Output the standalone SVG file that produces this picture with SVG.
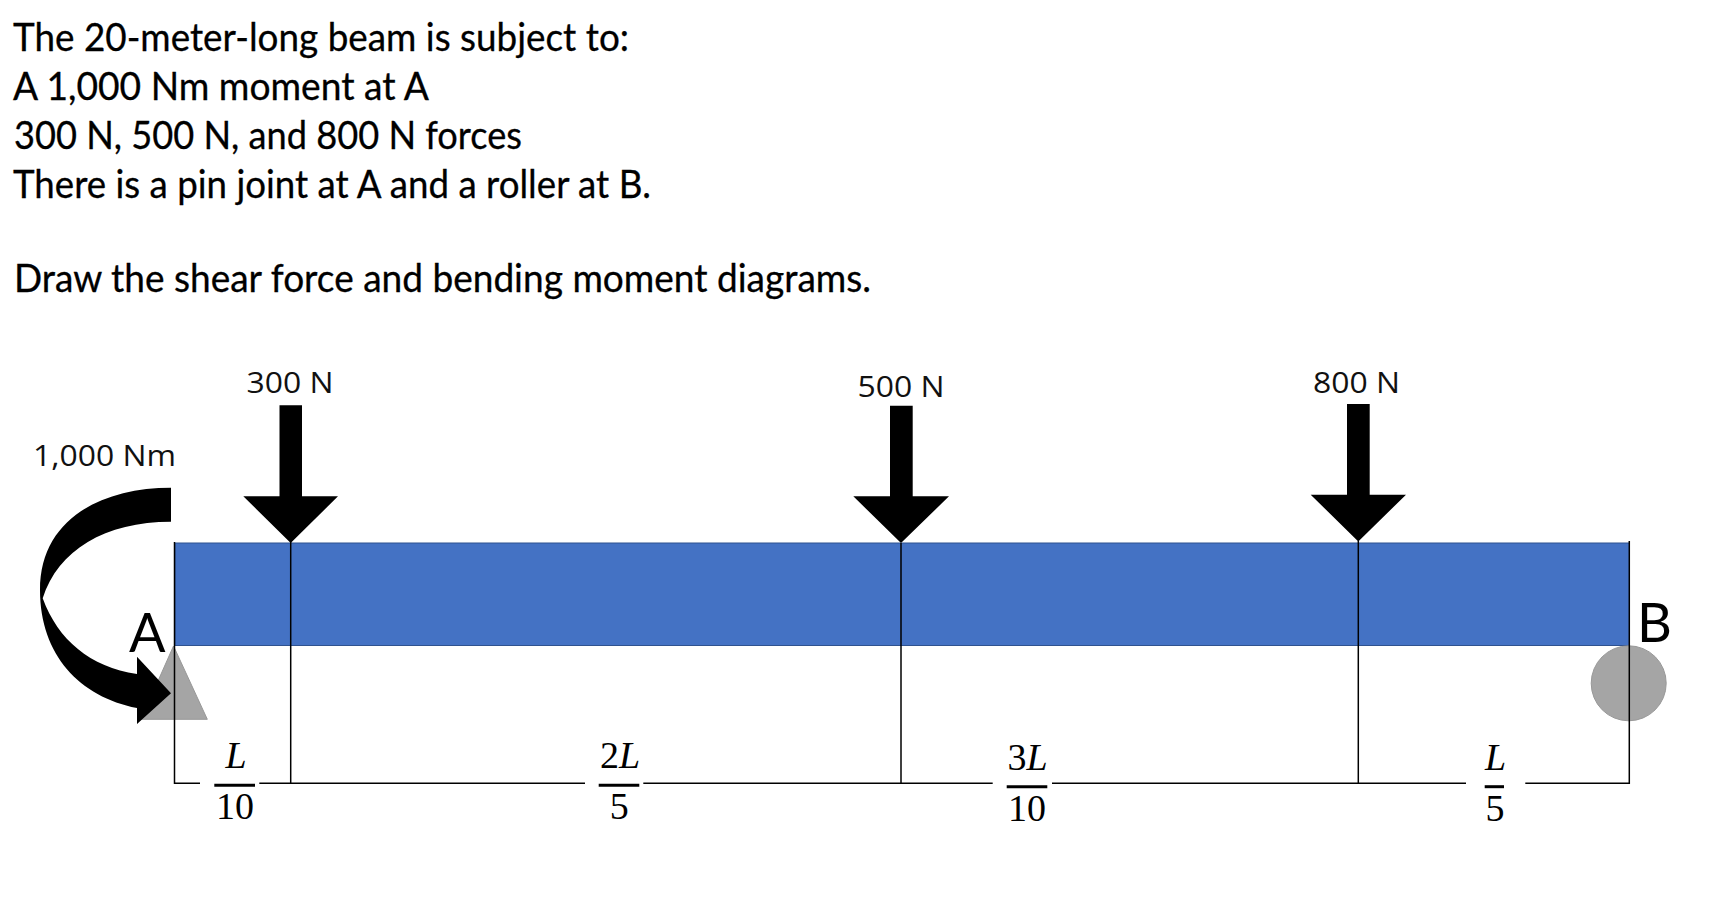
<svg xmlns="http://www.w3.org/2000/svg" width="1724" height="918" viewBox="0 0 1724 918">
<style>
.h{font-family:"Lato","Liberation Sans",sans-serif;font-size:38px;fill:#000;stroke:#000;stroke-width:.3}
.l{font-family:"Open Sans","Liberation Sans",sans-serif;font-size:30px;fill:#111}
.p{font-family:"Lato","Liberation Sans",sans-serif;font-size:54px;fill:#000}
.m{font-family:"Liberation Serif",serif;font-size:38px;fill:#000;text-anchor:middle}
.i{font-style:italic}
.ln{stroke:#000;stroke-width:1.5;fill:none}
.bar{stroke:#000;stroke-width:3;fill:none}
.sup{fill:#a5a5a5;stroke:#989898;stroke-width:1}
.ar{fill:#000}
</style>
<rect width="1724" height="918" fill="#fff"/>
<g id="statement">
<text class="h" x="13" y="51" textLength="616" lengthAdjust="spacingAndGlyphs">The 20-meter-long beam is subject to:</text>
<text class="h" x="13" y="100" textLength="416" lengthAdjust="spacingAndGlyphs">A 1,000 Nm moment at A</text>
<text class="h" x="14" y="149" textLength="508" lengthAdjust="spacingAndGlyphs">300 N, 500 N, and 800 N forces</text>
<text class="h" x="13" y="198" textLength="638" lengthAdjust="spacingAndGlyphs">There is a pin joint at A and a roller at B.</text>
<text class="h" x="14" y="292" textLength="857" lengthAdjust="spacingAndGlyphs">Draw the shear force and bending moment diagrams.</text>
</g>
<g id="beam"><rect x="175" y="543" width="1454.500" height="102.500" fill="#4472c4" stroke="#2f528f" stroke-width="1"/></g>
<g id="support-a"><polygon class="sup" points="173.500,646 207.300,719.300 141,719.300"/></g>
<g id="support-b"><circle class="sup" cx="1628.700" cy="683.300" r="37.500"/></g>
<g id="connectors">
<path class="ln" d="M174.500 542V783.300H200"/>
<path class="ln" d="M259.300 783.300H585"/>
<path class="ln" d="M643.300 783.300H992.700"/>
<path class="ln" d="M1052 783.300H1466"/>
<path class="ln" d="M1525.300 783.300H1629.300V541"/>
<path class="ln" d="M290.700 542V783.300"/>
<path class="ln" d="M901 543V783.300"/>
<path class="ln" d="M1358.300 541V783.300"/>
</g>
<g id="moment">
<path class="ar" d="M171 487.700C100 487.700 40 520 40 590C40 655 80 697 137 708L137 724L171 693.300L137 656.700L137 674C90 667 58 640 42.700 598.300C58 550 105 521.700 171 521.700Z"/>
<text class="l" x="33" y="465.700" textLength="143" lengthAdjust="spacingAndGlyphs">1,000 Nm</text>
</g>
<g id="force-300">
<polygon class="ar" points="279.500,405.300 302,405.300 302,496.300 338,496.300 290.700,543 243.300,496.300 279.500,496.300"/>
<text class="l" x="246.500" y="392.700" textLength="87" lengthAdjust="spacingAndGlyphs">300 N</text>
</g>
<g id="force-500">
<polygon class="ar" points="890,405.700 912.700,405.700 912.700,496.300 949,496.300 901,543 853.300,496.300 890,496.300"/>
<text class="l" x="857.500" y="396.700" textLength="87" lengthAdjust="spacingAndGlyphs">500 N</text>
</g>
<g id="force-800">
<polygon class="ar" points="1347,404 1369.700,404 1369.700,494.700 1406,494.700 1358.300,541.500 1310.700,494.700 1347,494.700"/>
<text class="l" x="1313" y="392.800" textLength="87" lengthAdjust="spacingAndGlyphs">800 N</text>
</g>
<g id="label-a"><text class="p" x="129" y="652">A</text></g>
<g id="label-b"><text class="p" x="1637" y="642">B</text></g>
<g id="dim-1">
<text class="m i" x="236" y="768">L</text><path class="bar" d="M214.300 785.300H255"/><text class="m" x="235" y="819">10</text>
</g>
<g id="dim-2">
<text class="m" x="620" y="768">2<tspan class="i">L</tspan></text><path class="bar" d="M598.700 785.300H639.300"/><text class="m" x="619.300" y="819">5</text>
</g>
<g id="dim-3">
<text class="m" x="1027.500" y="769.500">3<tspan class="i">L</tspan></text><path class="bar" d="M1006.700 786.700H1047.300"/><text class="m" x="1027" y="820.500">10</text>
</g>
<g id="dim-4">
<text class="m i" x="1495.500" y="769.500">L</text><path class="bar" d="M1484.700 786.700H1504"/><text class="m" x="1495" y="820.500">5</text>
</g>
</svg>
